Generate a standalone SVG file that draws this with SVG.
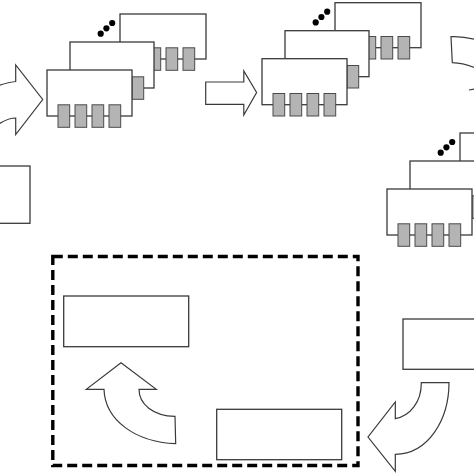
<svg xmlns="http://www.w3.org/2000/svg" xmlns:xlink="http://www.w3.org/1999/xlink" width="474" height="474" viewBox="0 0 474 474">
<style>
.box{fill:#fff;stroke:#3a3a3a;stroke-width:1.3}
.cell{fill:#b4b4b4;stroke:#4a4a4a;stroke-width:1}
.arrow{fill:#fff;stroke:#3a3a3a;stroke-width:1.2;stroke-linejoin:miter}
.dot{fill:#000}
.dash{fill:none;stroke:#000;stroke-width:3.4;stroke-dasharray:10 5}
</style>
<defs>
<g id="stack">
<rect class="box" x="120" y="14" width="86" height="45"/>
<rect class="cell" x="132" y="47.8" width="11.7" height="22.5"/>
<rect class="cell" x="149" y="47.8" width="11.7" height="22.5"/>
<rect class="cell" x="166" y="47.8" width="11.7" height="22.5"/>
<rect class="cell" x="183" y="47.8" width="11.7" height="22.5"/>
<circle class="dot" cx="100.7" cy="33.7" r="3.1"/>
<circle class="dot" cx="106.4" cy="28.3" r="3.1"/>
<circle class="dot" cx="112.2" cy="23" r="3.1"/>
<rect class="box" x="70" y="42" width="84" height="46"/>
<rect class="cell" x="81" y="76.8" width="11.7" height="22.5"/>
<rect class="cell" x="98" y="76.8" width="11.7" height="22.5"/>
<rect class="cell" x="115" y="76.8" width="11.7" height="22.5"/>
<rect class="cell" x="132" y="76.8" width="11.7" height="22.5"/>
<rect class="box" x="47" y="70" width="85" height="46"/>
<rect class="cell" x="58" y="104.8" width="11.7" height="22.5"/>
<rect class="cell" x="75" y="104.8" width="11.7" height="22.5"/>
<rect class="cell" x="92" y="104.8" width="11.7" height="22.5"/>
<rect class="cell" x="109" y="104.8" width="11.7" height="22.5"/>
</g>
</defs>
<rect width="474" height="474" fill="#fff"/>
<g id="connectors">
<path id="arrow-left" class="arrow" d="M-2,86 Q8,82 15.7,81.5 L15.7,65 L42.7,99.5 L15.7,134.5 L15.7,118 Q8,118 -2,124.5 Z"/>
<path id="arrow-mid" class="arrow" d="M205.7,82 L243.8,82 L243.8,71 L256.6,92.5 L243.8,115 L243.8,104.3 L205.7,104.3 Z"/>
<path id="arrow-topright" class="arrow" d="M480,41 Q465,36 451,36.7 L452.3,62.7 Q465,63 480,70"/>
<path class="arrow" d="M469,90 L480,88"/>
<path id="arrow-bottomright" class="arrow" d="M421.3,382.7 L449,382.5 C449,420 428,454 395.3,454.3 L395.3,471.3 L368,437 L395.3,402 L395.3,418.7 C410,416 421.5,402 421.3,382.7 Z"/>
<path id="arrow-inner" class="arrow" d="M121,362.7 L156.3,389.3 L139,389.3 C139,404 153,416 175,416.3 L175.7,443.7 C135,442 105,420 104,389.3 L86.3,389.3 Z"/>
</g>
<g id="stack1"><use xlink:href="#stack"/></g>
<g id="stack2"><use xlink:href="#stack" transform="translate(215,-11.3)"/></g>
<g id="stack3"><use xlink:href="#stack" transform="translate(340,119)"/></g>
<g id="box-left"><rect class="box" x="-2" y="166" width="32" height="57.3"/></g>
<g id="box-right"><rect class="box" x="403" y="319" width="75" height="50.3"/></g>
<g id="group-dashed">
<rect class="dash" x="52.8" y="256.5" width="305.2" height="209"/>
</g>
<g id="box-inner-top"><rect class="box" x="63.7" y="296" width="125" height="50.7"/></g>
<g id="box-inner-bottom"><rect class="box" x="216.7" y="409.3" width="125" height="50.4"/></g>
</svg>
